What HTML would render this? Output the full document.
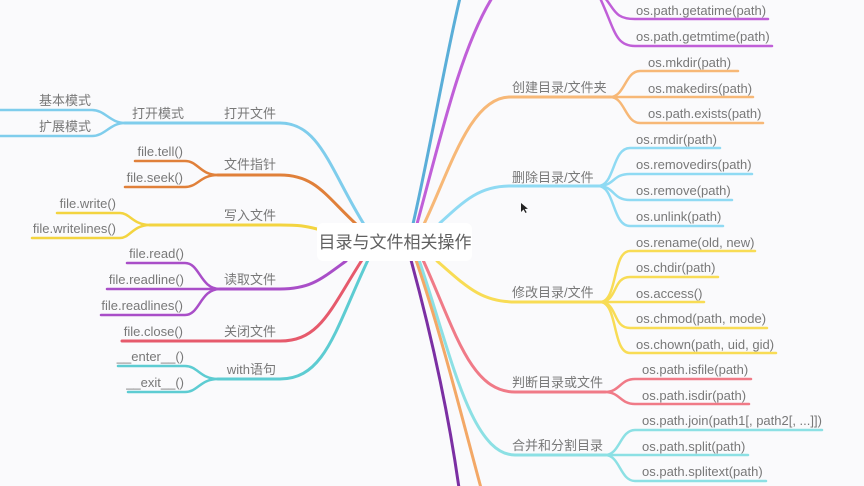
<!DOCTYPE html>
<html><head><meta charset="utf-8"><style>
html,body{margin:0;padding:0;background:#fafafc;}
svg{display:block}
text{font-family:"Liberation Sans","Noto Sans CJK SC",sans-serif;font-size:13px;fill:#787878;}
</style></head><body>
<svg width="864" height="486" viewBox="0 0 864 486" xmlns="http://www.w3.org/2000/svg">
<g fill="none" stroke-linecap="round" stroke-width="3">
<g stroke="#7fcdec">
<path d="M365 226 C330 170 320 123 280 123 L125 123"/>
<path d="M125 123 C110 123 105 110 92 110 L0 110" stroke-width="2.5"/>
<path d="M125 123 C110 123 105 136 92 136 L0 136" stroke-width="2.5"/>
</g>
<g stroke="#e0803a">
<path d="M356 224 C325 195 315 175 280 175 L218 175"/>
<path d="M218 175 C200 175 198 161 185 161 L135 161" stroke-width="2.5"/>
<path d="M218 175 C200 175 198 187 185 187 L125 187" stroke-width="2.5"/>
</g>
<g stroke="#f3d440">
<path d="M317 229 C305 226 300 225 280 225 L150 225"/>
<path d="M150 225 C133 225 130 213 120 213 L57 213" stroke-width="2.5"/>
<path d="M150 225 C133 225 130 238 120 238 L32 238" stroke-width="2.5"/>
</g>
<g stroke="#a94ec8">
<path d="M346 261 C320 280 310 289 280 289 L220 289"/>
<path d="M220 289 C200 289 200 263 185 263 L127 263" stroke-width="2.5"/>
<path d="M220 289 L107 289" stroke-width="2.5"/>
<path d="M220 289 C200 289 200 315 185 315 L101 315" stroke-width="2.5"/>
</g>
<g stroke="#e65a6c">
<path d="M362 260 C330 310 320 341 280 341 L122 341"/>
</g>
<g stroke="#5dccd2">
<path d="M368 260 C335 330 325 379 280 379 L218 379"/>
<path d="M218 379 C200 379 198 366 185 366 L118 366" stroke-width="2.5"/>
<path d="M218 379 C200 379 198 392 185 392 L128 392" stroke-width="2.5"/>
</g>
<path stroke="#5aaed8" d="M413 224 C430 150 445 60 460 -2"/>
<g stroke="#c05fd8">
<path d="M417 224 C440 140 460 50 492 -2"/>
<path d="M605 -2 C615 10 615 19 635 19 L768 19" stroke-width="2.5"/>
<path d="M600 -2 C615 30 615 46 635 46 L772 46" stroke-width="2.5"/>
</g>
<g stroke="#f7b877">
<path d="M424 224 C450 170 470 97 510 97 L610 97"/>
<path d="M610 97 C625 97 625 71 640 71 L738 71" stroke-width="2.5"/>
<path d="M610 97 L753 97" stroke-width="2.5"/>
<path d="M610 97 C625 97 625 123 640 123 L763 123" stroke-width="2.5"/>
</g>
<g stroke="#8fdaf3">
<path d="M440 223 C465 200 480 186 510 186 L598 186"/>
<path d="M598 186 C615 186 612 148 630 148 L720 148" stroke-width="2.5"/>
<path d="M598 186 C615 186 612 174 630 174 L752 174" stroke-width="2.5"/>
<path d="M598 186 C615 186 612 200 630 200 L732 200" stroke-width="2.5"/>
<path d="M598 186 C615 186 612 226 630 226 L723 226" stroke-width="2.5"/>
</g>
<g stroke="#f8dc55">
<path d="M437 261 C465 285 480 302 515 302 L600 302"/>
<path d="M600 302 C618 302 612 251 630 251 L755 251" stroke-width="2.5"/>
<path d="M600 302 C618 302 612 277 630 277 L718 277" stroke-width="2.5"/>
<path d="M600 302 L704 302" stroke-width="2.5"/>
<path d="M600 302 C618 302 612 328 630 328 L767 328" stroke-width="2.5"/>
<path d="M600 302 C618 302 612 353 630 353 L776 353" stroke-width="2.5"/>
</g>
<g stroke="#f07a87">
<path d="M423 260 C455 330 470 392 515 392 L605 392"/>
<path d="M605 392 C620 392 620 379 635 379 L751 379" stroke-width="2.5"/>
<path d="M605 392 C620 392 620 404 635 404 L749 404" stroke-width="2.5"/>
</g>
<g stroke="#8ce0e4">
<path d="M419 260 C450 350 470 455 515 455 L605 455"/>
<path d="M605 455 C620 455 620 430 635 430 L822 430" stroke-width="2.5"/>
<path d="M605 455 L748 455" stroke-width="2.5"/>
<path d="M605 455 C620 455 620 481 635 481 L766 481" stroke-width="2.5"/>
</g>
<path stroke="#f3a866" d="M416 260 C440 330 460 410 481 488"/>
<path stroke="#7b2fa3" d="M411 260 C430 330 448 410 459 488"/>
</g>
<rect x="317" y="223" width="155" height="38" rx="6" fill="#fff"/>
<text x="395" y="248" text-anchor="middle" style="font-size:17px;fill:#606060">目录与文件相关操作</text>
<g text-anchor="end">
<text x="276" y="118">打开文件</text>
<text x="184" y="118">打开模式</text>
<text x="91" y="105">基本模式</text>
<text x="91" y="131">扩展模式</text>
<text x="276" y="169">文件指针</text>
<text x="183" y="156">file.tell()</text>
<text x="183" y="182">file.seek()</text>
<text x="276" y="220">写入文件</text>
<text x="116" y="208">file.write()</text>
<text x="116" y="233">file.writelines()</text>
<text x="276" y="284">读取文件</text>
<text x="184" y="258">file.read()</text>
<text x="184" y="284">file.readline()</text>
<text x="183" y="310">file.readlines()</text>
<text x="276" y="336">关闭文件</text>
<text x="183" y="336">file.close()</text>
<text x="276" y="374">with语句</text>
<text x="184" y="361">__enter__()</text>
<text x="184" y="387">__exit__()</text>
</g>
<text x="636" y="15">os.path.getatime(path)</text>
<text x="636" y="41">os.path.getmtime(path)</text>
<text x="512" y="92">创建目录/文件夹</text>
<text x="648" y="67">os.mkdir(path)</text>
<text x="648" y="93">os.makedirs(path)</text>
<text x="648" y="118">os.path.exists(path)</text>
<text x="512" y="182">删除目录/文件</text>
<text x="636" y="144">os.rmdir(path)</text>
<text x="636" y="169">os.removedirs(path)</text>
<text x="636" y="195">os.remove(path)</text>
<text x="636" y="221">os.unlink(path)</text>
<text x="512" y="297">修改目录/文件</text>
<text x="636" y="247">os.rename(old, new)</text>
<text x="636" y="272">os.chdir(path)</text>
<text x="636" y="298">os.access()</text>
<text x="636" y="323">os.chmod(path, mode)</text>
<text x="636" y="349">os.chown(path, uid, gid)</text>
<text x="512" y="387">判断目录或文件</text>
<text x="642" y="374">os.path.isfile(path)</text>
<text x="642" y="400">os.path.isdir(path)</text>
<text x="512" y="450">合并和分割目录</text>
<text x="642" y="425">os.path.join(path1[, path2[, ...]])</text>
<text x="642" y="451">os.path.split(path)</text>
<text x="642" y="476">os.path.splitext(path)</text>
<path d="M521 203 l0 9 l2.5 -2.5 l2 3.5 l1.2 -0.7 l-2 -3.3 l3.2 -0.3 z" fill="#222"/>
</svg>
</body></html>
